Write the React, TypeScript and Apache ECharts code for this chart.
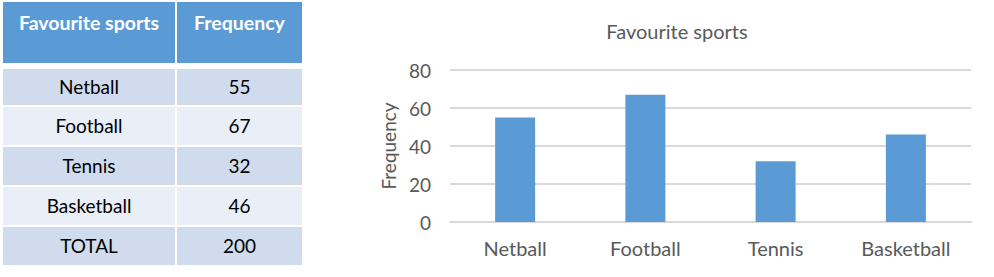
import React, { useEffect, useRef } from "react";
import * as echarts from "echarts";

const categories = ["Netball", "Football", "Tennis", "Basketball"];
const frequencies = [55, 67, 32, 46];
const tableHeaders = ["Favourite sports", "Frequency"];
const totalLabel = "TOTAL";
const totalValue = 200;
const yTicks = [0, 20, 40, 60, 80];

const FONT = "Lato, 'Open Sans', sans-serif";

export default function App() {
  const ref = useRef<HTMLDivElement>(null);
  useEffect(() => {
    if (!ref.current) return;
    const chart = echarts.init(ref.current, null, { renderer: "svg" });

    const colX = [3, 177];
    const colW = [172, 125];
    const rows: string[][] = categories.map((c, i) => [c, String(frequencies[i])]);
    rows.push([totalLabel, String(totalValue)]);
    const rowTop = [69, 107, 147, 187, 227];
    const rowH = [36, 38, 38, 38, 38];
    const rowFill = ["#D0DCEE", "#E9EEF7"];

    const graphics: any[] = [];
    tableHeaders.forEach((h, c) => {
      graphics.push({
        type: "rect",
        shape: { x: colX[c], y: 2, width: colW[c], height: 61 },
        style: { fill: "#5B9BD5" },
        silent: true,
      });
      graphics.push({
        type: "text",
        x: colX[c] + colW[c] / 2,
        y: 22,
        style: {
          text: h,
          fill: "#FFFFFF",
          font: `bold 19.5px ${FONT}`,
          align: "center",
          verticalAlign: "middle",
        },
        silent: true,
      });
    });
    rows.forEach((r, i) => {
      r.forEach((cell, c) => {
        graphics.push({
          type: "rect",
          shape: { x: colX[c], y: rowTop[i], width: colW[c], height: rowH[i] },
          style: { fill: rowFill[i % 2] },
          silent: true,
        });
        graphics.push({
          type: "text",
          x: colX[c] + colW[c] / 2,
          y: rowTop[i] + rowH[i] / 2 - 0.5,
          style: {
            text: cell,
            fill: "#000000",
            font: `19px ${FONT}`,
            align: "center",
            verticalAlign: "middle",
          },
          silent: true,
        });
      });
    });

    chart.setOption({
      animation: false,
      title: {
        text: "Favourite sports",
        left: 672,
        top: 16,
        textAlign: "center",
        textStyle: { color: "#595959", fontFamily: FONT, fontSize: 20, fontWeight: "normal" },
      },
      grid: { left: 450, right: 23, top: 70, bottom: 55, containLabel: false },
      xAxis: {
        type: "category",
        data: categories,
        axisTick: { show: false },
        axisLine: { show: true, lineStyle: { color: "#D9D9D9", width: 2 } },
        axisLabel: { color: "#595959", fontFamily: FONT, fontSize: 20, margin: 16 },
      },
      yAxis: {
        type: "value",
        min: yTicks[0],
        max: yTicks[yTicks.length - 1],
        interval: 20,
        name: "Frequency",
        nameLocation: "middle",
        nameGap: 48,
        nameTextStyle: { color: "#595959", fontFamily: FONT, fontSize: 19 },
        axisLine: { show: false },
        axisTick: { show: false },
        axisLabel: { color: "#595959", fontFamily: FONT, fontSize: 19, margin: 19 },
        splitLine: { lineStyle: { color: "#D9D9D9", width: 2 } },
      },
      series: [
        {
          type: "bar",
          data: frequencies,
          barWidth: 40,
          itemStyle: { color: "#5B9BD5" },
        },
      ],
      graphic: graphics,
    });
    return () => chart.dispose();
  }, []);
  return (
    <div
      ref={ref}
      style={{ position: "fixed", left: 0, top: 0, width: 994, height: 277, background: "#FFFFFF" }}
    />
  );
}
